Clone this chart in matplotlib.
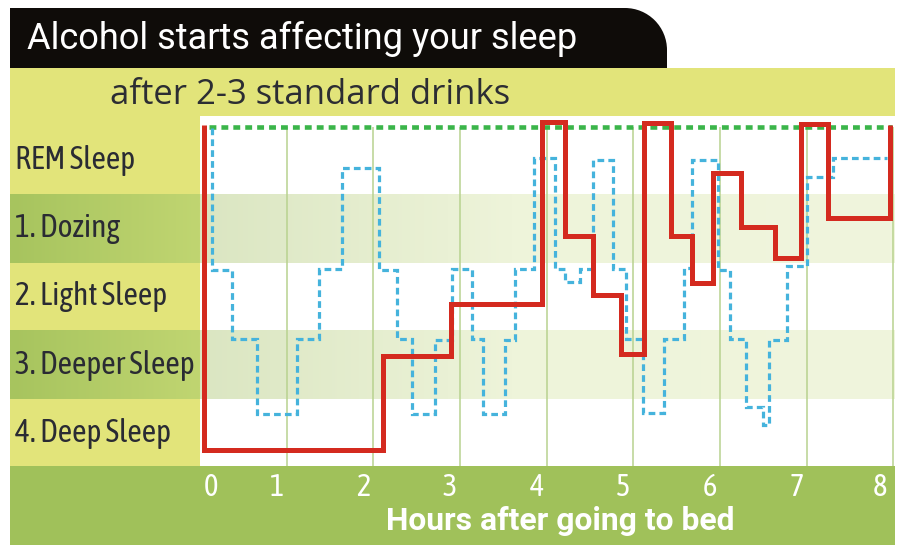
import numpy as np
import matplotlib
matplotlib.use("Agg")
import matplotlib.pyplot as plt
from matplotlib.patches import Rectangle, Circle
from matplotlib.colors import LinearSegmentedColormap

# texts
title = "Alcohol starts affecting your sleep"
subtitle = "after 2-3 standard drinks"
x_title = "Hours after going to bed"
stage_labels = ["4. Deep Sleep", "3. Deeper Sleep", "2. Light Sleep", "1. Dozing", "REM Sleep"]
stage_levels = [0, 1, 2, 3, 4]
hours = [0, 1, 2, 3, 4, 5, 6, 7, 8]
hour_labels = ["0", "1", "2", "3", "4", "5", "6", "7", "8"]

# normal night (blue dashed): hour of each change, stage level from that hour on
normal_hours = [0.14, 0.14, 0.37, 0.66, 1.12, 1.37, 1.64, 2.07, 2.27, 2.45, 2.71, 2.91,
                3.14, 3.26, 3.52, 3.64, 3.85, 4.10, 4.21, 4.39, 4.53, 4.77, 4.92, 5.11,
                5.35, 5.58, 5.68, 5.98, 6.12, 6.30, 6.50, 6.57, 6.77, 7.00, 7.31, 7.93]
normal_stage = [4.47, 2.39, 1.38, 0.29, 1.38, 2.41, 3.89, 2.39, 1.38, 0.28, 1.37, 2.41,
                1.38, 0.29, 1.37, 2.41, 4.03, 2.41, 2.22, 2.41, 4.01, 2.41, 1.39, 0.30,
                1.39, 2.43, 4.01, 2.39, 1.38, 0.39, 0.12, 1.37, 2.45, 3.76, 4.04, 4.04]

# night after 2-3 drinks (red)
alcohol_hours = [0.05, 0.05, 2.11, 2.90, 3.95, 4.21, 4.53, 4.86, 5.12, 5.44, 5.68, 5.92,
                 6.24, 6.64, 6.93, 7.25, 7.96, 7.96]
alcohol_stage = [4.52, -0.24, 1.14, 1.90, 4.56, 2.89, 2.03, 1.16, 4.55, 2.89, 2.20, 3.82,
                 3.02, 2.57, 4.53, 3.15, 4.52, 4.52]

# awake line (green dotted)
awake_hours = [0.1, 7.98]
awake_stage = [4.49, 4.49]

NARROW = dict(family=['Asap Condensed', 'DejaVu Sans'], fontstretch='condensed')
TITLE_F = dict(family=['Roboto', 'DejaVu Sans'])
SUB_F = dict(family=['Open Sans', 'DejaVu Sans'])
YELLOW = '#e2e47a'
GREEN = '#a0c15a'

W, H = 911, 559
fig = plt.figure(figsize=(W / 100, H / 100), dpi=100)
fig.patch.set_facecolor('white')

# background drawn in pixel units
bg = fig.add_axes([0, 0, 1, 1], zorder=0)
bg.set_xlim(0, W)
bg.set_ylim(H, 0)
bg.axis('off')

# black title tab with rounded top-right corner
bg.add_patch(Rectangle((10, 8), 615, 60, color='#0f0c09', lw=0))
bg.add_patch(Rectangle((600, 50), 67, 18, color='#0f0c09', lw=0))
bg.add_patch(Circle((625, 50), 42, color='#0f0c09', lw=0))
t_title = bg.text(27, 39, title, color='white', fontsize=30, va='center', ha='left', **TITLE_F)

# yellow subtitle band + left label column
bg.add_patch(Rectangle((10, 68), 885, 48, color=YELLOW, lw=0, zorder=2))
t_sub = bg.text(110, 95, subtitle, color='#2c2d33', fontsize=25, va='center', ha='left',
                zorder=3, **SUB_F)
bg.add_patch(Rectangle((10, 116), 190, 350, color=YELLOW, lw=0, zorder=2))

# bottom green band
bg.add_patch(Rectangle((10, 466), 885, 79, color=GREEN, lw=0, zorder=2))
t_x = bg.text(560, 521, x_title, color='white', fontsize=21.5, fontweight='bold',
              va='center', ha='center', zorder=3, **TITLE_F)

# row geometry in pixels (row centre of level L)
row_c0, row_h = 433.5, 68.3
panel_cmap = LinearSegmentedColormap.from_list('panel', ['#a7c45e', '#c0d571'])
for lvl in (1, 3):
    top = row_c0 - row_h * (lvl + 0.5)
    bg.imshow(np.linspace(0, 1, 64)[None, :], cmap=panel_cmap, aspect='auto',
              extent=(10, 200, top + row_h, top), zorder=2.5, interpolation='bilinear')

# main plot
ax = fig.add_axes([200 / W, (H - 466) / H, 695 / W, 350 / H], zorder=1)
ax.set_facecolor('white')
ax.set_xlim(0, 8.02)
ax.set_ylim(-0.476, 4.649)
for s in ax.spines.values():
    s.set_visible(False)
ax.set_xticks([])
ax.set_yticks([])

band_cmap = LinearSegmentedColormap.from_list('band', [(0, '#dbe6c2'), (0.45, '#eef4da'), (1, '#f0f5dd')])
for lvl in (1, 3):
    ax.imshow(np.linspace(0, 1, 128)[None, :], cmap=band_cmap, aspect='auto',
              extent=(0, 8.02, lvl - 0.5, lvl + 0.5), zorder=0.5, interpolation='bilinear')

ax.vlines(hours[1:], -0.476, awake_stage[0], color='#b8d28f', lw=1.1, zorder=1)

ax.plot(awake_hours, awake_stage, color='#3bb54a', lw=3.3, dashes=(1.5, 1.1),
        dash_capstyle='butt', zorder=2)
ax.step(normal_hours, normal_stage, where='post', color='#45b3dc', lw=2.3,
        dashes=(2.1, 1.3), dash_capstyle='butt', dash_joinstyle='miter', zorder=3)
ax.step(alcohol_hours, alcohol_stage, where='post', color='#d42a1f', lw=3.6,
        solid_joinstyle='miter', solid_capstyle='butt', zorder=4)

# stage labels in the left column
t_labels = []
for lvl, lab in zip(stage_levels, stage_labels):
    t_labels.append(ax.text(-185 / 86.66, lvl, lab, color='#2a2b33', fontsize=21,
                            va='center', ha='left', clip_on=False, zorder=5, **NARROW))

# hour labels in the green band
for h, lab in zip(hours, hour_labels):
    dx = 11 if h == 0 else (-13 if h == 8 else -10)
    ax.annotate(lab, xy=(h, 0), xycoords=('data', 'axes fraction'),
                xytext=(dx, -22), textcoords='offset pixels', color='white',
                fontsize=22, ha='center', va='center', annotation_clip=False, **NARROW)

# size the texts to the widths they take in the original
fig.canvas.draw()
r = fig.canvas.get_renderer()


def fit(t, width):
    w = t.get_window_extent(r).width
    return t.get_fontsize() * width / w


t_title.set_fontsize(fit(t_title, 551))
t_sub.set_fontsize(fit(t_sub, 400))
t_x.set_fontsize(fit(t_x, 350))
fs = fit(t_labels[1], 180)
for t in t_labels:
    t.set_fontsize(fs)

fig.savefig('out.png', dpi=100)
